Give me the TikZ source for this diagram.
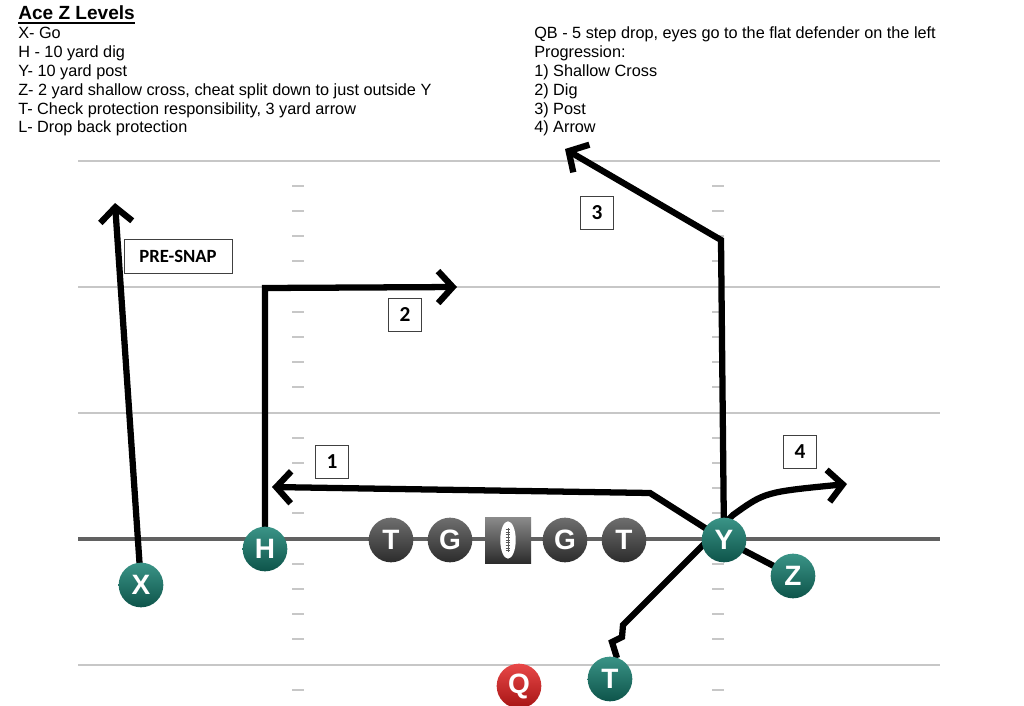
\documentclass[tikz,border=0pt]{standalone}
\usepackage{fontspec}
\setmainfont{Liberation Sans}
\newfontfamily\boxfont{Carlito}
\usetikzlibrary{arrows.meta, positioning}

\definecolor{tealtop}{HTML}{3A9487}
\definecolor{tealbot}{HTML}{0E544A}
\definecolor{graytop}{HTML}{6E6E6E}
\definecolor{graybot}{HTML}{2C2C2C}
\definecolor{redtop}{HTML}{E84848}
\definecolor{redbot}{HTML}{A61414}

\tikzset{
  yardline/.style={line width=1.4pt, color=black!22},
  scrimmage/.style={line width=3pt, color=black!62},
  hash/.style={line width=1.1pt, color=black!22},
  route/.style={line width=4.7pt, color=black},
  routetip/.style={-{Straight Barb[length=11pt, width=24pt]}},
  player/.style={circle, minimum size=33.5pt, inner sep=0pt, text=white,
    font=\bfseries\fontsize{21}{21}\selectfont},
  offense/.style={player, top color=tealtop, bottom color=tealbot},
  lineman/.style={player, top color=graytop, bottom color=graybot},
  passer/.style={player, top color=redtop, bottom color=redbot},
  numbox/.style={draw=black!75, line width=0.7pt, minimum size=24.75pt, inner sep=0pt,
    font=\boxfont\bfseries\fontsize{16}{16}\selectfont},
  notes/.style={anchor=base west, inner sep=0pt, font=\fontsize{12.2}{14}\selectfont}
}

\begin{document}
\begin{tikzpicture}[x=0.75pt, y=-0.75pt]
\useasboundingbox (0,0) rectangle (1024,706);
\fill [white] (0,0) rectangle (1024,706);

% The field
\foreach \y in {161,287,413,665}
  \draw [yardline] (78,\y) -- (940,\y);
\draw [scrimmage] (78,539) -- (940,539);

% Hash marks
\foreach \y in {186,211,236,261,312,337,362,387,438,463,488,513,564,589,614,639,690} {
  \draw [hash] (292,\y) -- (304,\y);
  \draw [hash] (712,\y) -- (724,\y);
}

% Player spots
\coordinate (posX) at (141,585);
\coordinate (posH) at (265,549);
\coordinate (posY) at (724,540);
\coordinate (posZ) at (793,576);
\coordinate (posT) at (610,679);
\coordinate (posQ) at (519,686);

% Route points
\coordinate (goEnd) at (115,203);
\coordinate (digBreak) at (265,288);
\coordinate (digEnd) at (457,287);
\coordinate (crossBreak) at (650,493);
\coordinate (crossEnd) at (272,487);
\coordinate (postBreak) at (721,240);
\coordinate (postEnd) at (565,149);
\coordinate (tTop) at (617,658);
\coordinate (zigA) at (612,642);
\coordinate (zigB) at (622,637);
\coordinate (zigC) at (623,625);
\coordinate (arrowBend) at (733,515);
\coordinate (arrowEnd) at (847,484);

% Routes
\draw [route, routetip] (posX) -- (goEnd);
\draw [route, routetip] (posH) -- (digBreak) -- (digEnd);
\draw [route, routetip] (posZ) -- (posY) -- (crossBreak) -- (crossEnd);
\draw [route, routetip] (posY) -- (postBreak) -- (postEnd);
\draw [route, routetip] (tTop) -- (zigA) -- (zigB) -- (zigC) -- (arrowBend)
  .. controls (765,492) .. (arrowEnd);

% Offensive line and ball
\node [lineman] (lt) at (391,540) {T};
\node [lineman] (lg) at (450,540) {G};
\node [rectangle, minimum size=34.5pt, inner sep=0pt, top color=graytop!80, bottom color=graybot] (ball) at (508,540) {};
\fill [white] (ball.center) ellipse [x radius=5.8pt, y radius=14pt];
\draw [black!65, line width=0.6pt] ([yshift=9pt]ball.center) -- ([yshift=-9pt]ball.center);
\foreach \k in {-8,-6,...,8}
  \draw [black!65, line width=0.5pt] ([xshift=-1.8pt, yshift=\k pt]ball.center) -- ([xshift=1.8pt, yshift=\k pt]ball.center);
\node [lineman] (rg) at (565,540) {G};
\node [lineman] (rt) at (624,540) {T};

% Skill players
\node [offense] (X) at (posX) {X};
\node [offense] (H) at (posH) {H};
\node [offense] (Y) at (posY) {Y};
\node [offense] (Z) at (posZ) {Z};
\node [offense] (Tback) at (posT) {T};
\node [passer] (Q) at (posQ) {Q};

% Labels
\node [draw=black!75, line width=0.7pt, minimum width=81pt, minimum height=25.5pt, inner sep=0pt,
  font=\boxfont\bfseries\fontsize{14}{14}\selectfont] (presnap) at (178,256) {PRE-SNAP};
\node [numbox] (box1) at (332,462) {1};
\node [numbox] (box2) at (405,315) {2};
\node [numbox] (box3) at (597,213) {3};
\node [numbox] (box4) at (800,452) {4};

% Notes
\node [anchor=base west, inner sep=0pt, font=\bfseries\fontsize{14.3}{16}\selectfont] (title) at (18,20) {Ace Z Levels};
\draw [line width=1.2pt] ([yshift=-2.2pt]title.base west) -- ([yshift=-2.2pt]title.base east);
\node [notes] (noteX) at (18,38.5) {X- Go};
\node [notes] (noteH) at (18,57.4) {H - 10 yard dig};
\node [notes] (noteY) at (18,76.3) {Y- 10 yard post};
\node [notes] (noteZ) at (18,95.2) {Z- 2 yard shallow cross, cheat split down to just outside Y};
\node [notes] (noteT) at (18,114.1) {T- Check protection responsibility, 3 yard arrow};
\node [notes] (noteL) at (18,133) {L- Drop back protection};

\node [notes] (noteQB) at (534,38.5) {QB - 5 step drop, eyes go to the flat defender on the left};
\node [notes] (noteProg) at (534,57.4) {Progression:};
\node [notes] (prog1) at (534,76.3) {1) Shallow Cross};
\node [notes] (prog2) at (534,95.2) {2) Dig};
\node [notes] (prog3) at (534,114.1) {3) Post};
\node [notes] (prog4) at (534,133) {4) Arrow};

\end{tikzpicture}
\end{document}
